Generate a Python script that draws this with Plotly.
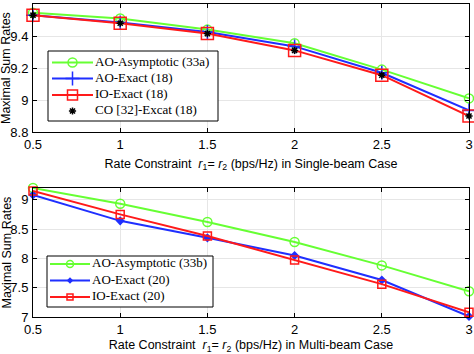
import plotly.graph_objects as go

x = [0.5, 1, 1.5, 2, 2.5, 3]

# Single-beam case (top)
sb_ao_asym = [9.545, 9.51, 9.44, 9.355, 9.19, 9.01]
sb_ao_exact = [9.53, 9.485, 9.425, 9.335, 9.17, 8.935]
sb_io_exact = [9.53, 9.48, 9.415, 9.31, 9.155, 8.90]
sb_co_exact = [9.53, 9.48, 9.415, 9.31, 9.155, 8.90]

# Multi-beam case (bottom)
mb_ao_asym = [9.2, 8.93, 8.62, 8.28, 7.88, 7.44]
mb_ao_exact = [9.08, 8.64, 8.35, 8.05, 7.63, 7.01]
mb_io_exact = [9.15, 8.75, 8.38, 7.97, 7.56, 7.08]

top_names = ["AO-Asymptotic (33a)", "AO-Exact (18)", "IO-Exact (18)", "CO [32]-Excat (18)"]
bot_names = ["AO-Asymptotic (33b)", "AO-Exact (20)", "IO-Exact (20)"]

top_ticks = [8.8, 9.0, 9.2, 9.4, 9.6]
top_ticklabels = ["8.8", "9", "9.2", "9.4", "9.6"]
bot_ticks = [7, 7.5, 8, 8.5, 9]
bot_ticklabels = ["7", "7.5", "8", "8.5", "9"]
x_ticks = [0.5, 1, 1.5, 2, 2.5, 3]
x_ticklabels = ["0.5", "1", "1.5", "2", "2.5", "3"]

GREEN = "#66ff33"
BLUE = "#1f2fff"
RED = "#ff1a1a"

W, H = 474, 354
L, R, T, B = 33, 5, 4, 37
PY0, PY1 = T, H - B  # plot area pixel rows


def fy(px):
    return (PY1 - px) / (PY1 - PY0)


TOP_Y0, TOP_Y1 = 4, 132
BOT_Y0, BOT_Y1 = 188, 317

sb_styles = [
    dict(color=GREEN, marker=dict(symbol="circle-open", size=9, color=GREEN, line=dict(width=1.5)), lines=True),
    dict(color=BLUE, marker=dict(symbol="cross-thin-open", size=10, color=BLUE, line=dict(width=1.5, color=BLUE)), lines=True),
    dict(color=RED, marker=dict(symbol="square-open", size=12, color=RED, line=dict(width=1.5)), lines=True),
    dict(color="black", marker=dict(symbol="asterisk-open", size=6, color="black", line=dict(width=1.5, color="black")), lines=False),
]
mb_styles = [
    dict(color=GREEN, marker=dict(symbol="circle-open", size=9, color=GREEN, line=dict(width=1.5)), lines=True),
    dict(color=BLUE, marker=dict(symbol="diamond", size=7, color=BLUE), lines=True),
    dict(color=RED, marker=dict(symbol="square-open", size=8, color=RED, line=dict(width=1.5)), lines=True),
]

fig = go.Figure()

for ys, st, nm in zip([sb_ao_asym, sb_ao_exact, sb_io_exact, sb_co_exact], sb_styles, top_names):
    fig.add_trace(go.Scatter(x=x, y=ys, mode="lines+markers" if st["lines"] else "markers", name=nm,
                             line=dict(color=st["color"], width=2), marker=st["marker"],
                             xaxis="x", yaxis="y", showlegend=False, cliponaxis=False))
for ys, st, nm in zip([mb_ao_asym, mb_ao_exact, mb_io_exact], mb_styles, bot_names):
    fig.add_trace(go.Scatter(x=x, y=ys, mode="lines+markers", name=nm,
                             line=dict(color=st["color"], width=2), marker=st["marker"],
                             xaxis="x2", yaxis="y2", showlegend=False, cliponaxis=False))

LEG_FONT = dict(family="Liberation Serif, Times New Roman, serif", size=13, color="black")


def add_legend(xa, ya, box, rows, line_x, names, styles, small=False):
    bx0, bx1, by0, by1 = box
    fig.add_trace(go.Scatter(x=[bx0, bx1, bx1, bx0, bx0], y=[by0, by0, by1, by1, by0], mode="lines",
                             fill="toself", fillcolor="white", line=dict(color="black", width=1),
                             xaxis=xa, yaxis=ya, showlegend=False, hoverinfo="skip"))
    lx0, lx1, tx = line_x
    for ry, nm, st in zip(rows, names, styles):
        if st["lines"]:
            fig.add_trace(go.Scatter(x=[lx0, lx1], y=[ry, ry], mode="lines",
                                     line=dict(color=st["color"], width=2),
                                     xaxis=xa, yaxis=ya, showlegend=False, hoverinfo="skip"))
        mk = dict(st["marker"])
        if small:
            mk["size"] = max(5, mk["size"] - 2)
        else:
            mk["size"] = min(mk["size"], 10)
        fig.add_trace(go.Scatter(x=[(lx0 + lx1) / 2], y=[ry], mode="markers", marker=mk,
                                 xaxis=xa, yaxis=ya, showlegend=False, hoverinfo="skip"))
        fig.add_trace(go.Scatter(x=[tx], y=[ry], mode="text", text=[nm], textposition="middle right",
                                 textfont=LEG_FONT, xaxis=xa, yaxis=ya, showlegend=False, hoverinfo="skip",
                                 cliponaxis=False))


add_legend("x3", "y3", (48, 218, 51, 121), [62.5, 78.5, 95, 111], (52, 93, 95), top_names, sb_styles)
add_legend("x4", "y4", (47, 213, 256, 307), [264, 280.5, 297], (50, 90, 92), bot_names, mb_styles, small=True)

axis_common = dict(showline=True, linecolor="black", linewidth=1, mirror="ticks",
                   ticks="inside", ticklen=4, tickcolor="black",
                   showgrid=True, gridcolor="#e6e6e6", gridwidth=1, zeroline=False,
                   tickfont=dict(family="Liberation Sans, Arial", size=13, color="black"))
hidden = dict(visible=False, showgrid=False, zeroline=False, fixedrange=True)

xtitle_font = dict(family="Liberation Sans, Arial", size=12.5, color="black")
ytitle_font = dict(family="Liberation Sans, Arial", size=12.5, color="black")

fig.update_layout(
    width=W, height=H,
    margin=dict(l=L, r=R, t=T, b=B),
    paper_bgcolor="white", plot_bgcolor="white",
    showlegend=False,
    xaxis=dict(domain=[0, 1], anchor="y", range=[0.5, 3], tickvals=x_ticks, ticktext=x_ticklabels,
               title=dict(text="Rate Constraint  <i>r</i><sub>1</sub>= <i>r</i><sub>2</sub> (bps/Hz) in Single-beam Case",
                          font=xtitle_font, standoff=8),
               automargin=False, **axis_common),
    yaxis=dict(domain=[fy(TOP_Y1), fy(TOP_Y0)], anchor="x", range=[8.8, 9.6], tickvals=top_ticks,
               ticktext=top_ticklabels, ticklabelstandoff=1, automargin=False, **axis_common),
    xaxis2=dict(domain=[0, 1], anchor="y2", range=[0.5, 3], tickvals=x_ticks, ticktext=x_ticklabels,
                title=dict(text="Rate Constraint  <i>r</i><sub>1</sub>= <i>r</i><sub>2</sub> (bps/Hz) in Multi-beam Case",
                           font=xtitle_font, standoff=7),
                automargin=False, **axis_common),
    yaxis2=dict(domain=[fy(BOT_Y1), fy(BOT_Y0)], anchor="x2", range=[7, 9.2], tickvals=bot_ticks,
                ticktext=bot_ticklabels, ticklabelstandoff=1, automargin=False, **axis_common),
    xaxis3=dict(overlaying="x", anchor="y3", range=[L, W - R], **hidden),
    yaxis3=dict(overlaying="y", anchor="x3", range=[TOP_Y1, TOP_Y0], **hidden),
    xaxis4=dict(overlaying="x2", anchor="y4", range=[L, W - R], **hidden),
    yaxis4=dict(overlaying="y2", anchor="x4", range=[BOT_Y1, BOT_Y0], **hidden),
    annotations=[
        dict(text="Maximal Sum Rates", textangle=-90, xref="paper", yref="paper",
             x=(6 - L) / (W - L - R), y=fy((TOP_Y0 + TOP_Y1) / 2), xanchor="center", yanchor="middle",
             showarrow=False, font=ytitle_font),
        dict(text="Maximal Sum Rates", textangle=-90, xref="paper", yref="paper",
             x=(6 - L) / (W - L - R), y=fy((BOT_Y0 + BOT_Y1) / 2), xanchor="center", yanchor="middle",
             showarrow=False, font=ytitle_font),
    ],
)

fig.write_html("out.html")
